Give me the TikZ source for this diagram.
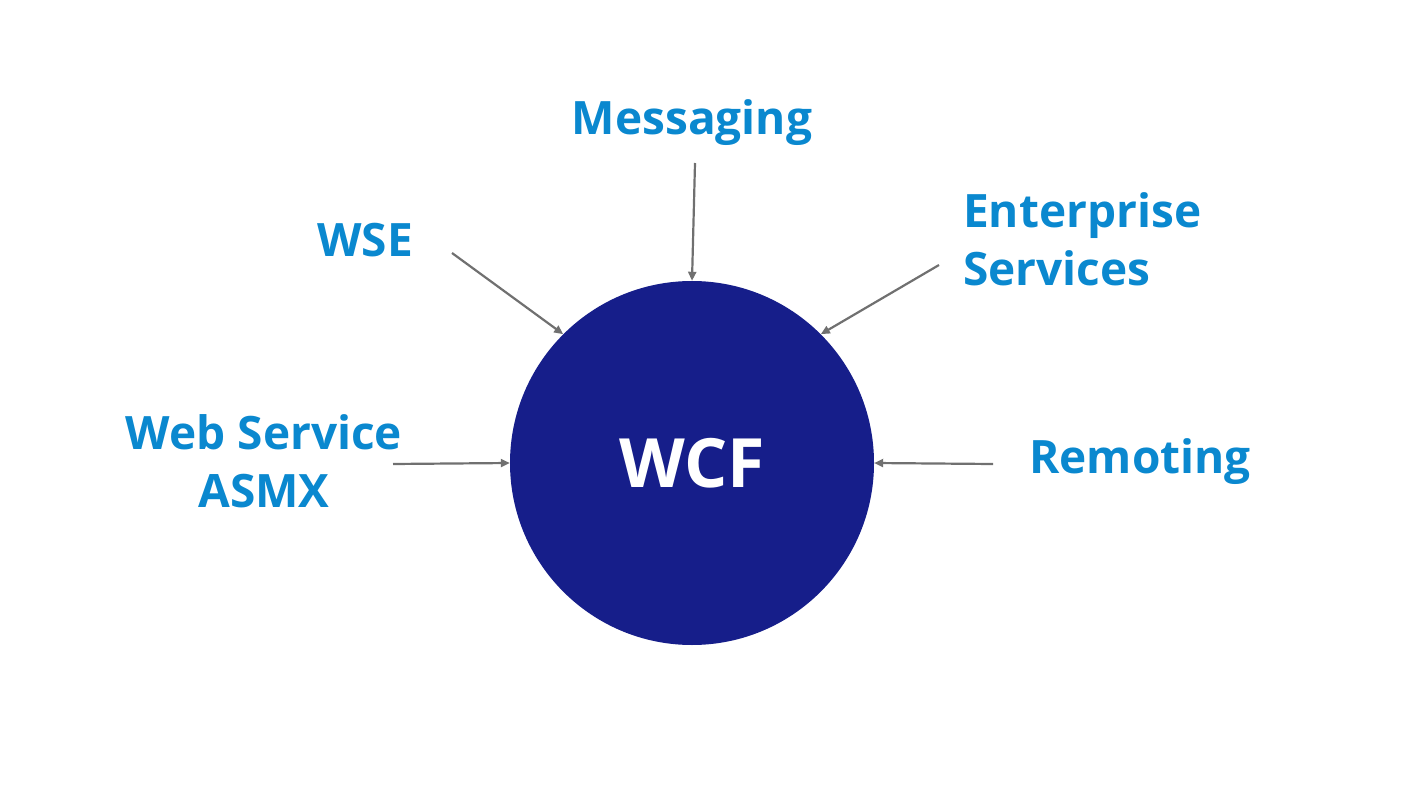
\documentclass[tikz,border=0pt]{standalone}
\usepackage{fontspec}
\setmainfont{Open Sans}
\usetikzlibrary{arrows.meta}
\definecolor{lbl}{HTML}{0A88CF}
\definecolor{core}{HTML}{161E8A}
\definecolor{arr}{HTML}{707070}
\begin{document}
\begin{tikzpicture}[x=1pt,y=-1pt,
  lab/.style={text=lbl,font=\fontsize{46}{58}\selectfont\bfseries,inner sep=0pt},
  con/.style={draw=arr,line width=2.2pt,-{Triangle[length=9pt,width=8pt]}}]
\useasboundingbox (0,0) rectangle (1404,791);
\node[circle,fill=core,minimum size=364pt,inner sep=0pt,text=white,font=\fontsize{68}{80}\selectfont\bfseries] (wcf) at (692,463) {WCF};
\node[lab] (msg) at (692,123) {Messaging};
\node[lab] (wse) at (365,240) {WSE};
\node[lab,align=left,anchor=west] (ent) at (963,239) {Enterprise\\Services};
\node[lab,align=center] (web) at (264,461) {Web Service\\ASMX};
\node[lab] (rem) at (1140,462) {Remoting};
\coordinate (m0) at (695,163);
\coordinate (w0) at (452,253);
\coordinate (e0) at (939,265);
\coordinate (b0) at (393,464);
\coordinate (r0) at (993,464);
\draw[con] (m0) -- (wcf.90);
\draw[con] (w0) -- (wcf.135);
\draw[con] (e0) -- (wcf.45);
\draw[con] (b0) -- (wcf.180);
\draw[con] (r0) -- (wcf.0);
\end{tikzpicture}
\end{document}
